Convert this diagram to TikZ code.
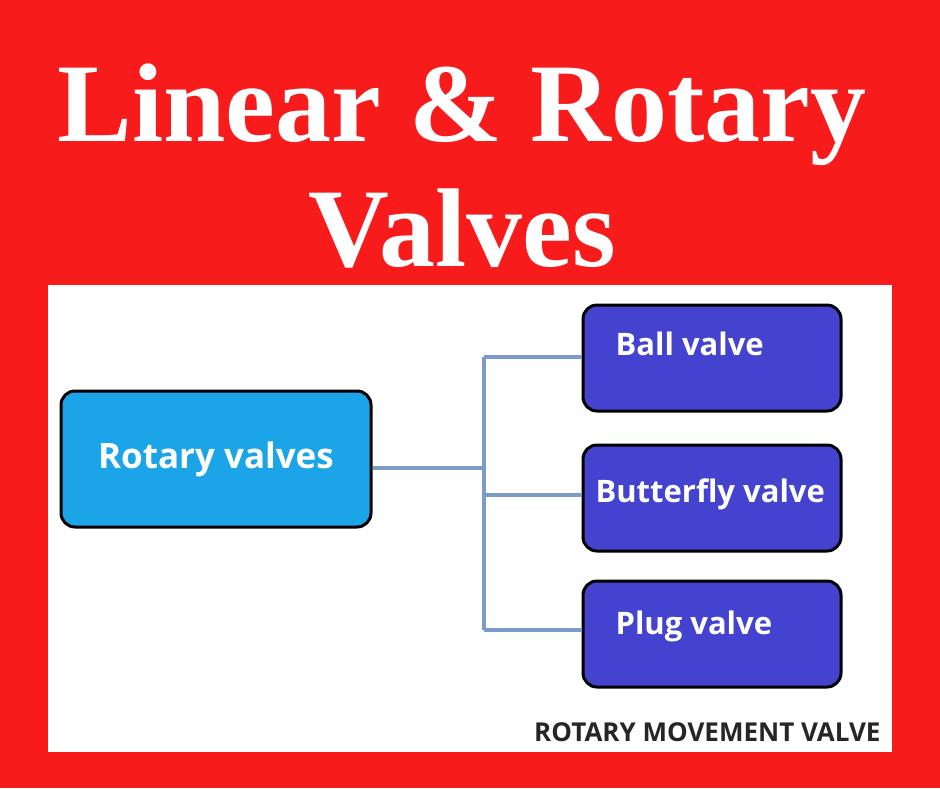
\documentclass[tikz,border=0pt]{standalone}
\usepackage{fontspec}
\setmainfont{Liberation Serif}
\setsansfont{Open Sans}
\definecolor{bgred}{HTML}{F71B1B}
\definecolor{rotblue}{HTML}{1BA5E8}
\definecolor{subblue}{HTML}{4343CF}
\definecolor{linkblue}{HTML}{7B9CC9}
\tikzset{
  mainbox/.style={draw=black,line width=3pt,rounded corners=14pt,fill=rotblue,
    minimum width=310pt,minimum height=136pt,font=\sffamily\bfseries\fontsize{35}{40}\selectfont,text=white},
  subbox/.style={draw=black,line width=3pt,rounded corners=14pt,fill=subblue,
    minimum width=258pt,minimum height=106pt},
  subtext/.style={font=\sffamily\bfseries\fontsize{31}{36}\selectfont,text=white,anchor=west},
  link/.style={draw=linkblue,line width=4pt}
}
\begin{document}
\begin{tikzpicture}[x=1pt,y=-1pt]
\fill[bgred] (0,0) rectangle (940,788);
\fill[white] (48,285) rectangle (892,752);
\node[font=\bfseries\fontsize{112}{120}\selectfont,text=white] (title1) at (462,115) {Linear \& Rotary};
\node[font=\bfseries\fontsize{112}{120}\selectfont,text=white] (title2) at (462,228) {Valves};
\node[mainbox] (rotary) at (216,459) {Rotary valves};
\node[subbox] (ball) at (712,358) {};
\node[subbox] (butterfly) at (712,498) {};
\node[subbox] (plug) at (712,634) {};
\node[subtext] (balltext) at (612,344) {Ball valve};
\node[subtext] (butterflytext) at (592,494) {Butterfly valve};
\node[subtext] (plugtext) at (612,626) {Plug valve};
\coordinate (split) at (484,468);
\draw[link] (rotary.east |- split) -- (split);
\draw[link] (484,357) -- (484,630);
\draw[link] (484,357) -- (ball.west |- 0,357);
\draw[link] (484,495) -- (butterfly.west |- 0,495);
\draw[link] (484,630) -- (plug.west |- 0,630);
\node[font=\sffamily\bfseries\fontsize{26}{30}\selectfont,anchor=east,text=black!85] (caption) at (884,732) {ROTARY MOVEMENT VALVE};
\end{tikzpicture}
\end{document}
